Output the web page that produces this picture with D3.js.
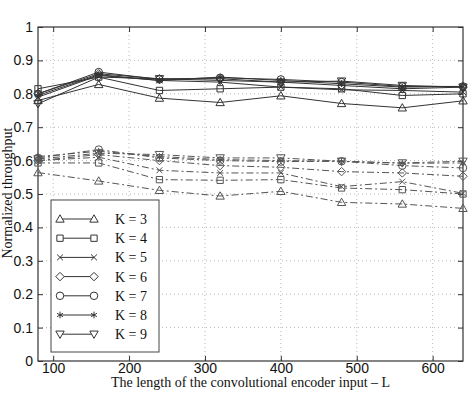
<!DOCTYPE html>
<html>
<head>
<meta charset="utf-8">
<script src="https://cdn.jsdelivr.net/npm/d3@7"></script>
<style>
  body { margin: 0; background: #fff; }
  svg { display: block; font-family: "Liberation Serif", "Times New Roman", serif; }
  .grid line { stroke: #b8b8b8; stroke-dasharray: 1,3; }
  .tick text { font-size: 14px; fill: #111; }
</style>
</head>
<body>
<div class="chart"></div>
<script>
// x values (encoder input length L)
var lengths = [80, 160, 240, 320, 400, 480, 560, 640];
var kLabels = ["K = 3", "K = 4", "K = 5", "K = 6", "K = 7", "K = 8", "K = 9"];
var markers = ["triangle", "square", "cross", "diamond", "circle", "star", "triangleDown"];

// solid curves (upper group)
var solidK3 = [0.780, 0.828, 0.787, 0.774, 0.794, 0.771, 0.758, 0.779];
var solidK4 = [0.815, 0.850, 0.810, 0.815, 0.820, 0.815, 0.795, 0.800];
var solidK5 = [0.790, 0.855, 0.840, 0.835, 0.820, 0.812, 0.810, 0.805];
var solidK6 = [0.800, 0.860, 0.845, 0.845, 0.835, 0.825, 0.815, 0.820];
var solidK7 = [0.800, 0.865, 0.843, 0.848, 0.843, 0.835, 0.822, 0.822];
var solidK8 = [0.795, 0.857, 0.840, 0.850, 0.840, 0.830, 0.820, 0.822];
var solidK9 = [0.770, 0.850, 0.845, 0.840, 0.835, 0.838, 0.825, 0.820];

// dash-dot curves (lower group)
var dashK3 = [0.564, 0.539, 0.511, 0.494, 0.508, 0.475, 0.470, 0.457];
var dashK4 = [0.593, 0.593, 0.543, 0.541, 0.543, 0.518, 0.513, 0.500];
var dashK5 = [0.600, 0.610, 0.571, 0.563, 0.563, 0.522, 0.537, 0.502];
var dashK6 = [0.600, 0.618, 0.600, 0.585, 0.580, 0.567, 0.563, 0.553];
var dashK7 = [0.608, 0.633, 0.608, 0.600, 0.597, 0.598, 0.585, 0.578];
var dashK8 = [0.612, 0.628, 0.612, 0.603, 0.600, 0.598, 0.592, 0.593];
var dashK9 = [0.605, 0.622, 0.618, 0.608, 0.608, 0.598, 0.593, 0.598];

var xTicks = [100, 200, 300, 400, 500, 600];
var yTicks = [0, 0.1, 0.2, 0.3, 0.4, 0.5, 0.6, 0.7, 0.8, 0.9, 1];

var solidSeries = [solidK3, solidK4, solidK5, solidK6, solidK7, solidK8, solidK9];
var dashSeries = [dashK3, dashK4, dashK5, dashK6, dashK7, dashK8, dashK9];

var W = 474, H = 395;
var margin = {top: 27, right: 11, bottom: 34, left: 38};
var width = W - margin.left - margin.right,
    height = H - margin.top - margin.bottom;

var svg = d3.select(".chart").append("svg")
    .attr("width", W).attr("height", H);
var g = svg.append("g")
    .attr("transform", "translate(" + margin.left + "," + margin.top + ")");

var x = d3.scaleLinear().domain([80, 640]).range([0, width]);
var y = d3.scaleLinear().domain([0, 1]).range([height, 0]);

//grid
var grid = g.append("g").attr("class", "grid");
grid.selectAll(".gx").data(xTicks).enter().append("line")
    .attr("x1", function(d){ return x(d); }).attr("x2", function(d){ return x(d); })
    .attr("y1", 0).attr("y2", height);
grid.selectAll(".gy").data(yTicks.slice(1, -1)).enter().append("line")
    .attr("y1", function(d){ return y(d); }).attr("y2", function(d){ return y(d); })
    .attr("x1", 0).attr("x2", width);

//axes (matlab style inward ticks)
var fmt = function(d){ return d === 0 ? "0" : d === 1 ? "1" : d3.format(".1f")(d); };
g.append("g").attr("transform", "translate(0," + height + ")")
    .call(d3.axisBottom(x).tickValues(xTicks).tickSizeInner(-5).tickSizeOuter(0).tickPadding(2))
    .call(function(a){ a.select(".domain").remove(); });
g.append("g")
    .call(d3.axisLeft(y).tickValues(yTicks).tickFormat(fmt).tickSizeInner(-5).tickSizeOuter(0).tickPadding(5))
    .call(function(a){ a.select(".domain").remove(); });
g.append("g")
    .call(d3.axisTop(x).tickValues(xTicks).tickSizeInner(-5).tickSizeOuter(0).tickFormat(""))
    .call(function(a){ a.select(".domain").remove(); });
g.append("g").attr("transform", "translate(" + width + ",0)")
    .call(d3.axisRight(y).tickValues(yTicks).tickSizeInner(-5).tickSizeOuter(0).tickFormat(""))
    .call(function(a){ a.select(".domain").remove(); });
g.selectAll(".tick line").attr("stroke", "#333");

g.append("rect").attr("width", width).attr("height", height)
    .attr("fill", "none").attr("stroke", "#333").attr("stroke-width", 1.2);

//marker paths
function markerPath(type, s) {
  switch (type) {
    case "triangle": return "M0," + (-s) + "L" + s + "," + (s*0.75) + "L" + (-s) + "," + (s*0.75) + "Z";
    case "triangleDown": return "M0," + s + "L" + s + "," + (-s*0.75) + "L" + (-s) + "," + (-s*0.75) + "Z";
    case "square": var q = s*0.75; return "M" + (-q) + "," + (-q) + "H" + q + "V" + q + "H" + (-q) + "Z";
    case "diamond": return "M0," + (-s) + "L" + s + ",0L0," + s + "L" + (-s) + ",0Z";
    case "circle": return d3.symbol(d3.symbolCircle, Math.PI * s * s * 0.8)();
    case "cross": var c = s*0.7; return "M" + (-c) + "," + (-c) + "L" + c + "," + c + "M" + c + "," + (-c) + "L" + (-c) + "," + c;
    case "star": var r = s*0.8;
      return "M0," + (-r) + "V" + r + "M" + (-r*0.87) + "," + (-r*0.5) + "L" + (r*0.87) + "," + (r*0.5) +
             "M" + (r*0.87) + "," + (-r*0.5) + "L" + (-r*0.87) + "," + (r*0.5);
  }
}

var line = d3.line()
    .x(function(d, i){ return x(lengths[i]); })
    .y(function(d){ return y(d); });

function drawGroup(series, dash, color) {
  series.forEach(function(vals, k){
    var sg = g.append("g").attr("class", "series");
    sg.append("path").datum(vals)
      .attr("d", line)
      .attr("fill", "none")
      .attr("stroke", color)
      .attr("stroke-width", 1)
      .attr("stroke-dasharray", dash);
    sg.selectAll(".mk").data(vals).enter().append("path")
      .attr("class", "mk")
      .attr("transform", function(d, i){ return "translate(" + x(lengths[i]) + "," + y(d) + ")"; })
      .attr("d", markerPath(markers[k], 4.2))
      .attr("fill", "none")
      .attr("stroke", color)
      .attr("stroke-width", 1);
  });
}
drawGroup(dashSeries, "7,3,2,3", "#555");
drawGroup(solidSeries, null, "#333");

//legend
var legend = g.append("g").attr("transform", "translate(13,173)");
legend.append("rect").attr("width", 108).attr("height", 152)
    .attr("fill", "#fff").attr("stroke", "#444").attr("stroke-width", 1);
var items = legend.selectAll(".item").data(kLabels).enter().append("g")
    .attr("class", "item")
    .attr("transform", function(d, i){ return "translate(0," + (19 + i * 19.2) + ")"; });
items.append("line").attr("x1", 9).attr("x2", 43)
    .attr("stroke", "#333").attr("stroke-width", 1);
[9, 43].forEach(function(px){
  items.append("path")
    .attr("transform", "translate(" + px + ",0)")
    .attr("d", function(d, i){ return markerPath(markers[i], 4.2); })
    .attr("fill", "#fff").attr("stroke", "#333").attr("stroke-width", 1);
});
items.append("text").attr("x", 64).attr("dy", "0.35em")
    .style("font-size", "14px").attr("fill", "#111")
    .text(function(d){ return d; });

//axis labels
svg.append("text")
    .attr("x", margin.left + width / 2).attr("y", 387)
    .attr("text-anchor", "middle").style("font-size", "14px").attr("fill", "#111")
    .text("The length of the convolutional encoder input \u2013 L");
svg.append("text")
    .attr("transform", "translate(12," + 193 + ") rotate(-90)")
    .attr("text-anchor", "middle").style("font-size", "14px").attr("fill", "#111")
    .text("Normalized throughput");
</script>
</body>
</html>
